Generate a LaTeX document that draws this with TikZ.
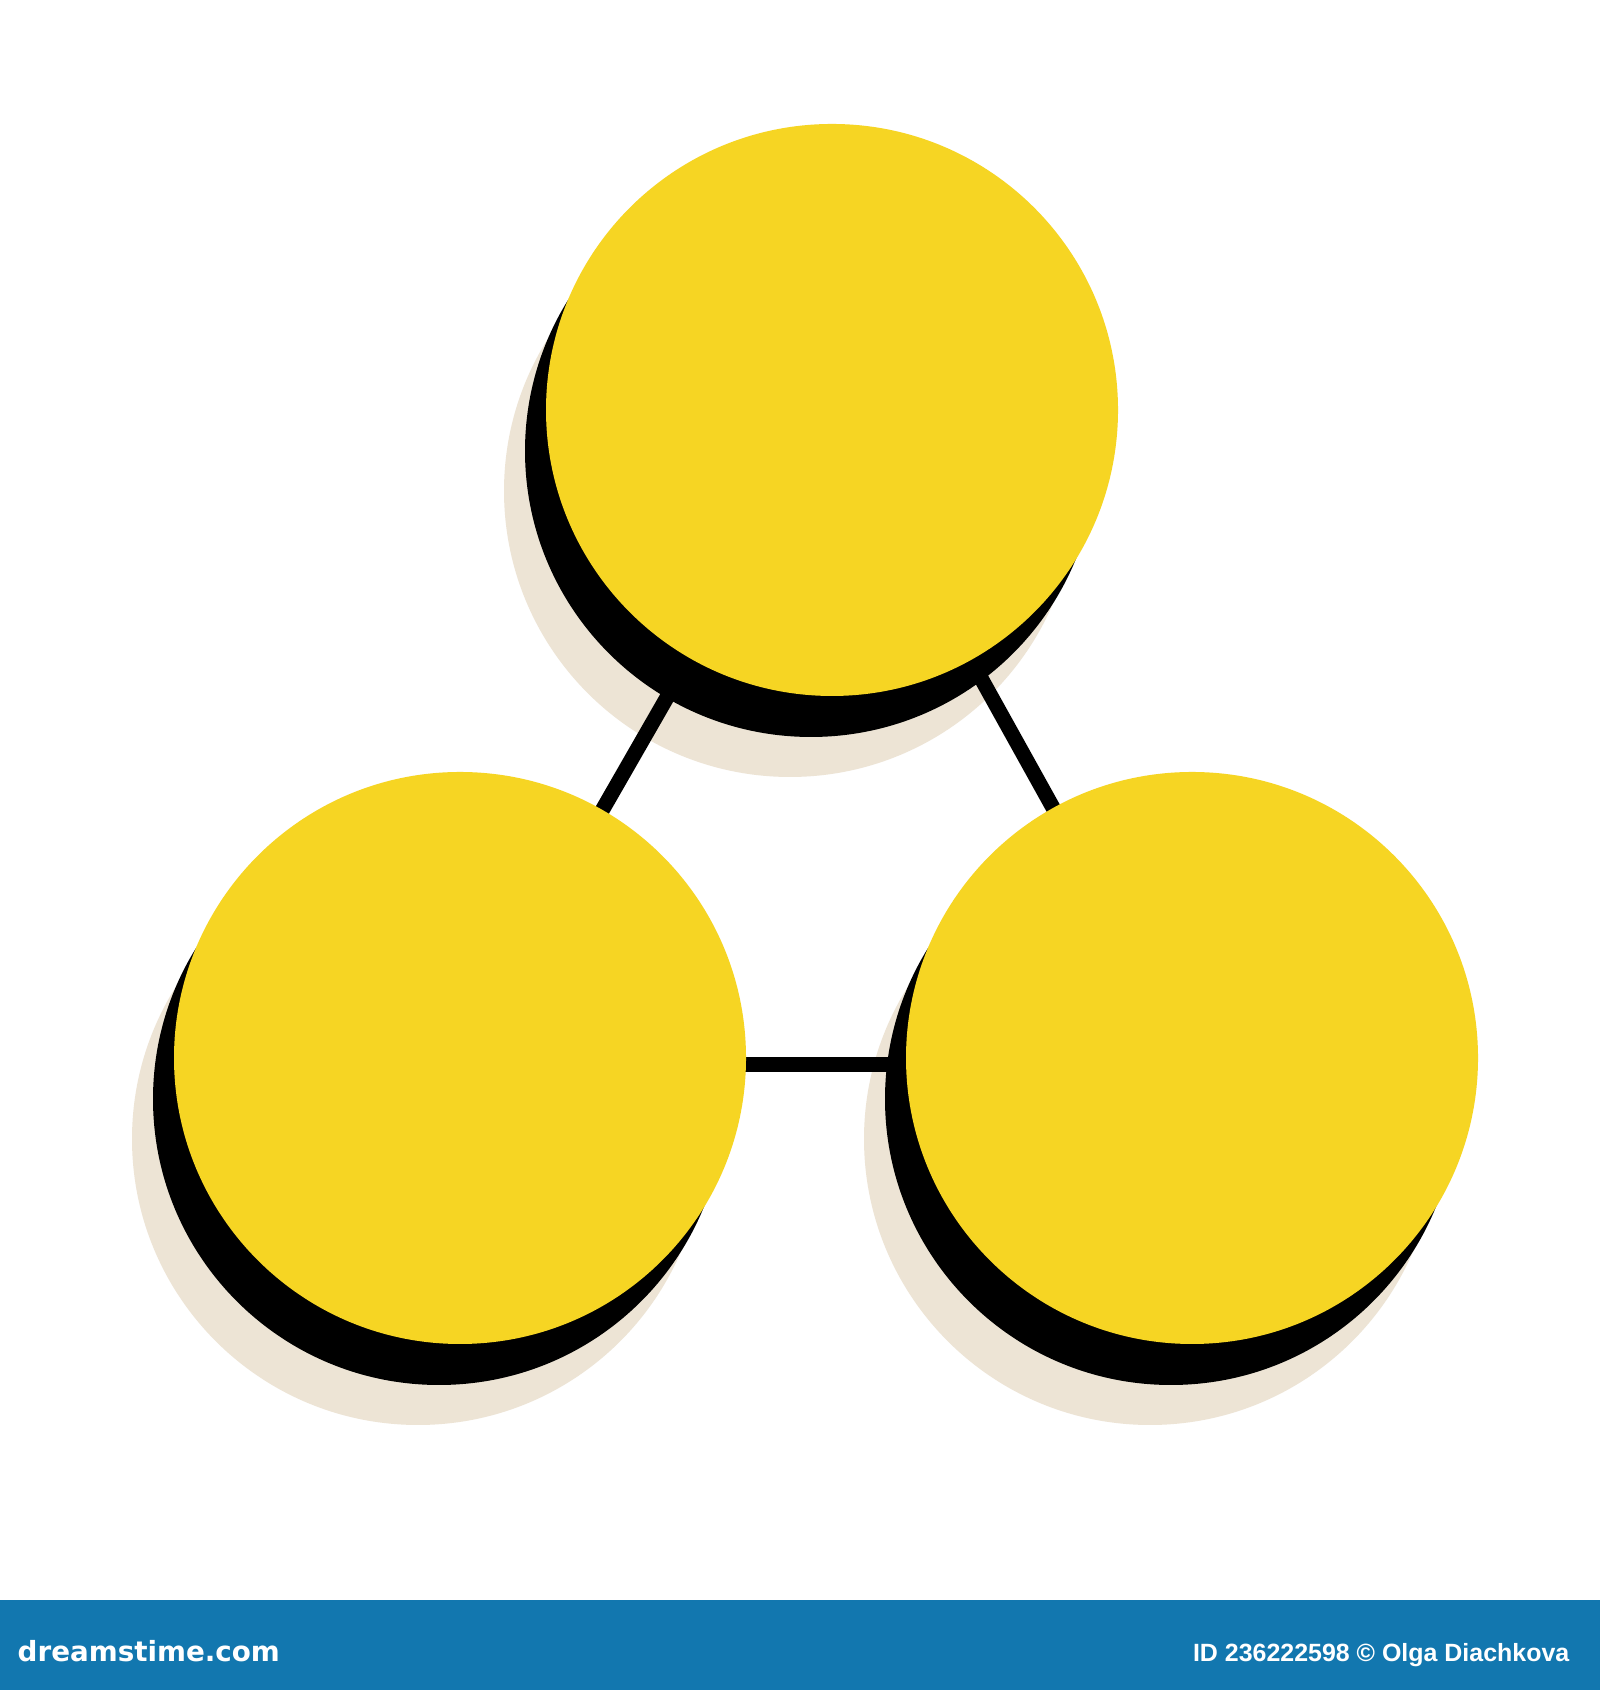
\documentclass[tikz,border=0pt]{standalone}
\usepackage{fontspec}
\setsansfont{Liberation Sans}
\newfontfamily\logofont{DejaVu Sans}
\usepackage{tikz}

\definecolor{discyellow}{HTML}{F6D523}
\definecolor{shadebeige}{HTML}{EDE4D5}
\definecolor{footblue}{HTML}{1277AF}

\tikzset{
  disc/.style={circle, fill=discyellow, inner sep=0pt, minimum size=5.72cm},
  beigeshadow/.style={fill=shadebeige},
  blackshadow/.style={fill=black},
  link/.style={black, line width=0.15cm}
}

\begin{document}
\begin{tikzpicture}
        \useasboundingbox (0,0) rectangle (16,16.9);
        \fill[white] (0,0) rectangle (16,16.9);

        \coordinate (top) at (8.32,12.80);
        \coordinate (left) at (4.60,6.32);
        \coordinate (right) at (11.92,6.32);

        \foreach \c in {top,left,right}
          \fill[beigeshadow] ([shift={(-0.42,-0.81)}]\c) circle (2.86);

        \draw [link] (top) -- (left);
        \draw [link] (top) -- (right);
        \draw [link] ([yshift=-0.07cm]left) -- ([yshift=-0.07cm]right);

        \foreach \c in {top,left,right}
          \fill[blackshadow] ([shift={(-0.21,-0.41)}]\c) circle (2.86);

        \node[disc] (topdisc) at (top) {};
        \node[disc] (leftdisc) at (left) {};
        \node[disc] (rightdisc) at (right) {};

        % footer bar
        \fill[footblue] (0,0) rectangle (16,0.9);
        \node[anchor=base west, text=white, inner sep=0pt, font=\logofont\bfseries\fontsize{7.9pt}{10pt}\selectfont] (logo) at (0.17,0.28) {dreamstime.com};
        \node[anchor=base east, text=white, inner sep=0pt, font=\sffamily\bfseries\fontsize{7.1pt}{9pt}\selectfont] (credit) at (15.70,0.28) {ID 236222598 © Olga Diachkova};
\end{tikzpicture}
\end{document}
